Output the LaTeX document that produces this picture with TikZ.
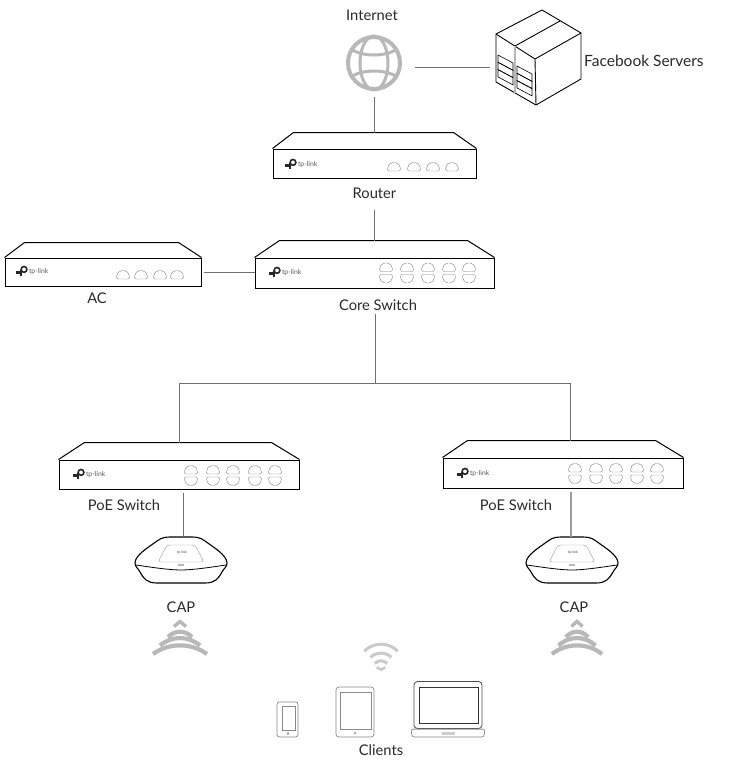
\documentclass[tikz,border=0pt]{standalone}
\usepackage{fontspec}
\setmainfont{Lato}
\definecolor{linkgray}{HTML}{707070}
\definecolor{iconlight}{HTML}{B8B8B8}
\definecolor{clientgray}{HTML}{8A8A8A}
\definecolor{labelblack}{HTML}{2A2A2A}
\tikzset{
	devbox/.style={draw=black,line width=1pt,inner sep=0pt,fill=white},
	devline/.style={draw=black,line width=1pt,line join=round},
	netlink/.style={draw=linkgray,line width=0.8pt},
	devlabel/.style={font=\fontsize{14.7}{16}\selectfont,text=labelblack,inner sep=1pt},
	portline/.style={draw=black!50,line width=0.4pt,rounded corners=2pt},
	wifibar/.style={draw=iconlight,line width=4.2pt},
	clientline/.style={draw=clientgray,line width=0.7pt},
	portup/.pic={\draw[portline] (-6.5,9) -- (-6.5,4.5) -- (-3,0.5) -- (3,0.5) -- (6.5,4.5) -- (6.5,9) -- cycle;},
	portdown/.pic={\draw[portline] (-6.5,0) -- (-6.5,4.5) -- (-3,8.5) -- (3,8.5) -- (6.5,4.5) -- (6.5,0) -- cycle;},
	tplogo/.pic={
		\draw[black!85,line width=1.6pt] (2,-1.6) circle (2.9);
		\draw[black!85,line width=2.2pt] (-0.9,-1.5) -- (-0.9,5.4);
		\draw[black!85,line width=2.4pt] (-6,1.6) -- (-1,1.6);
		\node[anchor=west,inner sep=0pt,text=black!65,font=\fontsize{6.8}{7}\selectfont] at (6.8,0.5) {tp-link};
	},
	capunit/.pic={
		\draw[devline,line width=1.1pt] (-46,3) .. controls (-46,-5) and (-32,-13) .. (-24,-19) .. controls (-19,-23) and (-14,-23) .. (-10,-23) -- (10,-23) .. controls (14,-23) and (19,-23) .. (24,-19) .. controls (32,-13) and (46,-5) .. (46,3) .. controls (46,7) and (43,8) .. (41,12) .. controls (37,19) and (34,23) .. (24,23) -- (-24,23) .. controls (-34,23) and (-37,19) .. (-41,12) .. controls (-43,8) and (-46,7) .. (-46,3) -- cycle;
		\draw[devline,line width=0.8pt] (-45,5) .. controls (-25,8) and (-10,10) .. (0,10) .. controls (10,10) and (25,8) .. (45,5);
		\draw[draw=black!35,line width=0.45pt,rounded corners=3pt] (-23,2) -- (-14,-15) -- (14,-15) -- (23,2) -- cycle;
		\node[inner sep=0pt,text=black!70,font=\fontsize{3.5}{4}\selectfont] at (1,-7) {tp-link};
		\draw[iconlight,line width=1.2pt] (-3,5) -- (3,5);
	},
	wifisign/.pic={
		\draw[wifibar,line width=3.4pt] (-6,8.5) -- (0,3.5) -- (6,8.5);
		\draw[wifibar] (-12,19) .. controls (-5,12) and (5,12) .. (12,19);
		\draw[wifibar] (-20,27.5) .. controls (-8,17.5) and (8,17.5) .. (20,27.5);
		\draw[wifibar] (-27,36) .. controls (-11,24.5) and (11,24.5) .. (27,36);
	},
}
\newcommand{\roofline}[4]{\draw[devline] (#1.north west) -- ++(#2,-#4) -- ([shift={(-#3,-#4)}]#1.north east) -- (#1.north east);}
\begin{document}
\begin{tikzpicture}[x=1pt,y=-1pt]
	\useasboundingbox[fill=white] (0,0) rectangle (734,771);
	% devices
	\node[circle,draw=iconlight,line width=4pt,minimum size=52pt,inner sep=0pt] (internet) at (374,63) {};
	\node[devbox,minimum width=203pt,minimum height=29pt] (router) at (374.5,163.5) {};
	\node[devbox,minimum width=239pt,minimum height=30pt] (core) at (374.5,273) {};
	\node[devbox,minimum width=196pt,minimum height=28pt] (ac) at (103,272) {};
	\node[devbox,minimum width=240pt,minimum height=29pt] (poeleft) at (179,474.5) {};
	\node[devbox,minimum width=240pt,minimum height=30pt] (poeright) at (563,473) {};
	\roofline{router}{21}{23}{16}
	\roofline{core}{25}{27}{17}
	\roofline{ac}{20}{23}{15}
	\roofline{poeleft}{26}{28}{17}
	\roofline{poeright}{25}{28}{17}

	% labels
	\node[devlabel] (internetlabel) at (372,15) {Internet};
	\node[devlabel,anchor=west,font=\fontsize{15.5}{16}\selectfont] (serverlabel) at (583,61) {Facebook Servers};
	\node[devlabel] (routerlabel) at (374.5,193) {Router};
	\node[devlabel] (aclabel) at (97,298) {AC};
	\node[devlabel] (corelabel) at (378,305) {Core Switch};
	\node[devlabel] (poeleftlabel) at (124,505) {PoE Switch};
	\node[devlabel] (poerightlabel) at (516,505) {PoE Switch};
	\node[devlabel] (capleftlabel) at (181,607) {CAP};
	\node[devlabel] (caprightlabel) at (574,607) {CAP};
	\node[devlabel] (clientslabel) at (381,750) {Clients};

	% globe
	\begin{scope}[shift={(internet.center)}]
		\draw[iconlight,line width=3pt] (0,0) ellipse (14 and 27);
		\draw[iconlight,line width=3pt] (-23,-14) .. controls (-12,-6) and (12,-6) .. (23,-14);
		\draw[iconlight,line width=3pt] (-23,14) .. controls (-12,6) and (12,6) .. (23,14);
	\end{scope}

	% server
	\coordinate (server) at (490,67);
	\draw[devline,line width=0.9pt] (542,10) -- (581,33) -- (581,79) -- (536,105) -- (496,82) -- (496,34) -- cycle;
	\draw[devline,line width=0.9pt] (496,34) -- (535,59) -- (581,33);
	\draw[devline,line width=0.9pt] (535,59) -- (536,105);
	\draw[devline,line width=0.9pt] (515,46) -- (560,21);
	\draw[iconlight,line width=1.5pt] (515,46) -- (515,93);
	\foreach \vy in {0,7.3,14.6} {
		\draw[black,line width=0.6pt] (498,55+\vy) -- (513,63+\vy) -- (513,70.3+\vy) -- (498,62.3+\vy) -- cycle;
		\draw[black,line width=0.6pt] (517,66+\vy) -- (532,74+\vy) -- (532,81.3+\vy) -- (517,73.3+\vy) -- cycle;
	}

	% ports
	\foreach \px in {394,414,433,452} \pic at (\px,162) {portup};
	\foreach \px in {123,141,160,177} \pic at (\px,270) {portup};
	\foreach \px in {386,407,428,449,469} {
		\pic at (\px,262.5) {portup};
		\pic at (\px,274.5) {portdown};
	}
	\foreach \px in {191,213,233,255,275} {
		\pic at (\px,465) {portup};
		\pic at (\px,477) {portdown};
	}
	\foreach \px in {575,596,616,637,657} {
		\pic at (\px,463) {portup};
		\pic at (\px,475) {portdown};
	}

	% logos
	\pic at (291,164) {tplogo};
	\pic at (22,271) {tplogo};
	\pic at (275,272) {tplogo};
	\pic at (79,474) {tplogo};
	\pic at (463,473) {tplogo};

	% access points
	\coordinate (capleft) at (183,537);
	\coordinate (capright) at (571,537);
	\pic at (181,560) {capunit};
	\pic at (572,560) {capunit};
	\pic at (180,618) {wifisign};
	\pic[xscale=0.93] at (577,618) {wifisign};

	% clients
	\begin{scope}[shift={(381,640)},scale=0.62]
		\draw[draw=iconlight!75,line width=3pt] (-27,18) .. controls (-12,3) and (12,3) .. (27,18);
		\draw[draw=iconlight!75,line width=3pt] (-17,28) .. controls (-8,19) and (8,19) .. (17,28);
		\draw[draw=iconlight!75,line width=3pt] (-10,38) .. controls (-5,32) and (5,32) .. (10,38);
		\draw[draw=iconlight!75,line width=2.5pt] (-7,44) -- (0,48) -- (7,44);
	\end{scope}
	\node[clientline,draw,rounded corners=2.5pt,minimum width=21pt,minimum height=35pt,inner sep=0pt] (phone) at (287.5,719.5) {};
	\draw[clientline,line width=0.6pt] (282,706) rectangle (295,730);
	\draw[clientline,line width=0.4pt] (288,733.5) circle (1);
	\node[clientline,draw,rounded corners=3pt,minimum width=38pt,minimum height=50pt,inner sep=0pt] (tablet) at (355,712) {};
	\draw[clientline] (340,692) rectangle (371,729);
	\draw[clientline,line width=0.4pt] (355,733) circle (1.2);
	\node[draw=black!70,line width=0.8pt,rounded corners=3.5pt,minimum width=68pt,minimum height=47pt,inner sep=0pt] (laptop) at (448,705) {};
	\draw[black!80,line width=0.7pt] (419,687) rectangle (478,723);
	\draw[clientline,rounded corners=2.5pt,fill=white] (411,729) -- (485,729) -- (484,737) -- (412,737) -- cycle;
	\draw[iconlight,line width=1.6pt] (413,729.5) -- (483,729.5);
	\fill[iconlight!70] (442,732) rectangle (455,735);

	% connectors
	\draw[netlink,shorten <=6pt] (internet.south -| router.north) -- ([yshift=16pt]router.north);
	\draw[netlink,shorten <=13pt] (internet.east |- server) -- (server);
	\draw[netlink,shorten <=10pt] (routerlabel.south) -- ([yshift=17pt]core.north);
	\draw[netlink,shorten <=2pt] (ac.east) -- (ac.east -| core.west);
	\coordinate (bus) at (375,383);
	\draw[netlink,shorten <=2pt] (corelabel.south -| bus) -- (bus);
	\draw[netlink] (bus) -| ([yshift=17pt]poeleft.north);
	\draw[netlink] (bus) -| ([xshift=7pt,yshift=17pt]poeright.north);
	\draw[netlink,shorten <=3pt] (poeleft.south -| capleft) -- (capleft);
	\draw[netlink,draw=linkgray!70,line width=1.3pt,shorten <=3pt] (poeright.south -| capright) -- (capright);
\end{tikzpicture}
\end{document}
